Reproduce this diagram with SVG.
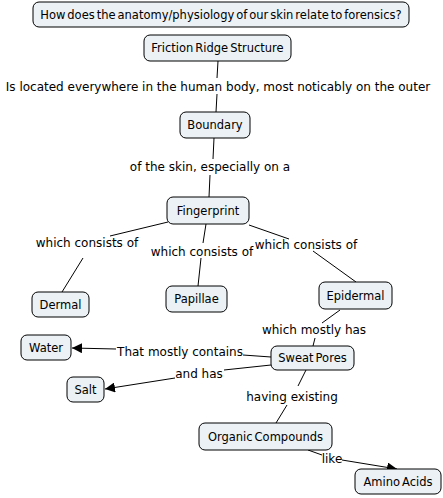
<svg xmlns="http://www.w3.org/2000/svg" width="443" height="498" viewBox="0 0 443 498">
<defs>
<marker id="arr" viewBox="0 0 10 10" refX="10" refY="5" markerWidth="10" markerHeight="10" markerUnits="userSpaceOnUse" orient="auto"><path d="M0,0 L10,5 L0,10 z" fill="#000"/></marker>
<style>
.n rect{fill:#ebf1f4;stroke:#000;stroke-width:1}
.n text{font-family:"DejaVu Sans",Verdana,sans-serif;font-size:11.5px;text-anchor:middle;word-spacing:-1.7px;fill:#000}
.l{font-family:"DejaVu Sans",Verdana,sans-serif;font-size:12px;text-anchor:middle;fill:#000}
.c line{stroke:#000;stroke-width:1}
</style>
</defs>
<rect width="443" height="498" fill="#fff"/>
<g class="c">
<line x1="218" y1="61" x2="217" y2="78"/>
<line x1="217" y1="94" x2="216" y2="112"/>
<line x1="214" y1="138" x2="213" y2="159"/>
<line x1="210" y1="175" x2="209" y2="197"/>
<line x1="168" y1="222" x2="110" y2="236"/>
<line x1="83" y1="258" x2="62" y2="292"/>
<line x1="206" y1="224" x2="203" y2="243"/>
<line x1="201" y1="258" x2="198" y2="286"/>
<line x1="249" y1="225" x2="289" y2="239"/>
<line x1="313" y1="251" x2="356" y2="282"/>
<line x1="340" y1="310" x2="322" y2="323"/>
<line x1="315" y1="338" x2="313" y2="346"/>
<line x1="271" y1="357" x2="243" y2="355"/>
<line x1="116" y1="349" x2="72" y2="348" marker-end="url(#arr)"/>
<line x1="271" y1="365" x2="224" y2="370"/>
<line x1="175" y1="378" x2="105" y2="389" marker-end="url(#arr)"/>
<line x1="306" y1="370" x2="298" y2="386"/>
<line x1="287" y1="405" x2="276" y2="423"/>
<line x1="308" y1="450" x2="322" y2="455"/>
<line x1="342" y1="460" x2="397" y2="469" marker-end="url(#arr)"/>
</g>
<g id="labels">
<text class="l" x="218" y="91">Is located everywhere in the human body, most noticably on the outer</text>
<text class="l" x="210" y="171">of the skin, especially on a</text>
<text class="l" x="87" y="247">which consists of</text>
<text class="l" x="202" y="256">which consists of</text>
<text class="l" x="306" y="249">which consists of</text>
<text class="l" x="314" y="334">which mostly has</text>
<text class="l" x="180" y="356">That mostly contains</text>
<text class="l" x="199" y="378">and has</text>
<text class="l" x="292" y="401">having existing</text>
<text class="l" x="332" y="463">like</text>
</g>
<g id="n-title" class="n"><rect x="33" y="2" width="376" height="25" rx="6"/><text x="221" y="19">How does the anatomy/physiology of our skin relate to forensics?</text></g>
<g id="n-friction" class="n"><rect x="144" y="35" width="147" height="26" rx="6"/><text x="217.5" y="52">Friction Ridge Structure</text></g>
<g id="n-boundary" class="n"><rect x="180" y="112" width="70" height="26" rx="6"/><text x="215" y="129">Boundary</text></g>
<g id="n-fingerprint" class="n"><rect x="167" y="197" width="82" height="27" rx="6"/><text x="208" y="215">Fingerprint</text></g>
<g id="n-dermal" class="n"><rect x="32" y="292" width="57" height="25" rx="6"/><text x="60.5" y="309">Dermal</text></g>
<g id="n-papillae" class="n"><rect x="166" y="286" width="61" height="26" rx="6"/><text x="196.5" y="303">Papillae</text></g>
<g id="n-epidermal" class="n"><rect x="319" y="282" width="73" height="27" rx="6"/><text x="355.5" y="300">Epidermal</text></g>
<g id="n-sweat" class="n"><rect x="271" y="346" width="83" height="24" rx="6"/><text x="312.5" y="362">Sweat Pores</text></g>
<g id="n-water" class="n"><rect x="21" y="335" width="50" height="25" rx="6"/><text x="46" y="352">Water</text></g>
<g id="n-salt" class="n"><rect x="67" y="377" width="37" height="25" rx="6"/><text x="85.5" y="394">Salt</text></g>
<g id="n-organic" class="n"><rect x="199" y="423" width="133" height="27" rx="6"/><text x="265.5" y="441">Organic Compounds</text></g>
<g id="n-amino" class="n"><rect x="355" y="469" width="86" height="25" rx="6"/><text x="398" y="486">Amino Acids</text></g>
</svg>
